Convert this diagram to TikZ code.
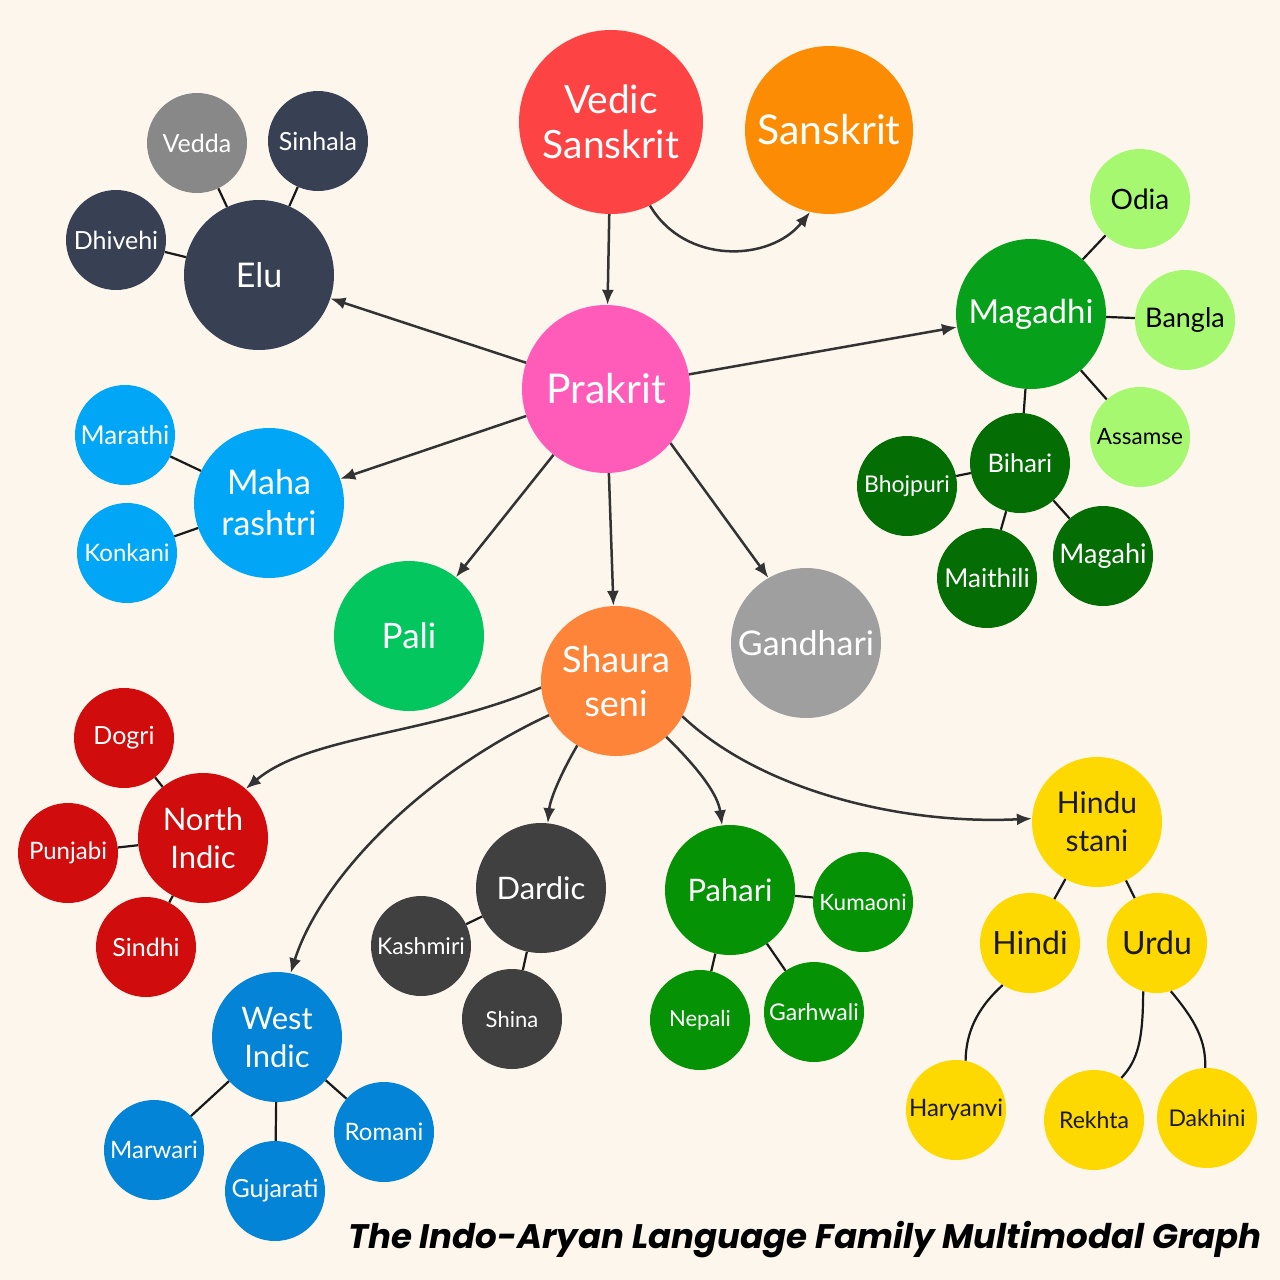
\documentclass[tikz,border=0pt]{standalone}
\usepackage{fontspec}
\setmainfont{Lato}
\newfontfamily\titlefont{Poppins}
\usetikzlibrary{arrows.meta}
\definecolor{bg}{HTML}{FDF6ED}
\definecolor{cVedic}{HTML}{FD4343}
\definecolor{cSansk}{HTML}{FC8C04}
\definecolor{cPrak}{HTML}{FF5CBA}
\definecolor{cElu}{HTML}{384154}
\definecolor{cVedda}{HTML}{888888}
\definecolor{cMagadhi}{HTML}{07A01B}
\definecolor{cLight}{HTML}{A6F870}
\definecolor{cBihari}{HTML}{046D04}
\definecolor{cMaha}{HTML}{01A7F6}
\definecolor{cPali}{HTML}{04C65F}
\definecolor{cShaur}{HTML}{FE8439}
\definecolor{cGand}{HTML}{9F9F9F}
\definecolor{cNorth}{HTML}{D10C0C}
\definecolor{cDard}{HTML}{404040}
\definecolor{cWest}{HTML}{0484D6}
\definecolor{cPahari}{HTML}{059205}
\definecolor{cHind}{HTML}{FED801}
\definecolor{edgec}{HTML}{333333}
\definecolor{darktext}{HTML}{1A1A1A}
\tikzset{
  lang/.style={circle, inner sep=0pt, text=white, align=center},
  big/.style={lang, minimum size=#1},
  arr/.style={draw=edgec, line width=2.5pt, -{Latex[length=15pt,width=12pt]}},
  link/.style={draw=black!90, line width=2.2pt},
}
\begin{document}
\begin{tikzpicture}[x=1pt,y=-1pt]
\fill[bg] (0,0) rectangle (1280,1280);
\useasboundingbox (0,0) rectangle (1280,1280);

% top
\node[big=184, fill=cVedic, font=\fontsize{39}{45}\selectfont] (vedic) at (611,122) {Vedic\\Sanskrit};
\node[big=168, fill=cSansk, font=\fontsize{41}{46}\selectfont] (sansk) at (829,130) {Sanskrit};
\node[big=168, fill=cPrak, font=\fontsize{41}{46}\selectfont] (prak) at (606,389) {Prakrit};

% Elu group
\node[big=150, fill=cElu, font=\fontsize{34}{40}\selectfont] (elu) at (259,275) {Elu};
\node[big=100, fill=cVedda, font=\fontsize{25}{30}\selectfont] (vedda) at (197,143) {Vedda};
\node[big=100, fill=cElu, font=\fontsize{25}{30}\selectfont] (sinh) at (318,141) {Sinhala};
\node[big=100, fill=cElu, font=\fontsize{25}{30}\selectfont] (dhiv) at (116,240) {Dhivehi};

% Magadhi group
\node[big=150, fill=cMagadhi, font=\fontsize{33}{40}\selectfont] (maga) at (1031,314) {Magadhi};
\node[big=100, fill=cLight, text=black, font=\fontsize{28}{32}\selectfont] (odia) at (1140,199) {Odia};
\node[big=100, fill=cLight, text=black, font=\fontsize{27}{32}\selectfont] (bang) at (1185,320) {Bangla};
\node[big=100, fill=cLight, text=black, font=\fontsize{22.5}{27}\selectfont] (assam) at (1140,437) {Assamse};
\node[big=100, fill=cBihari, font=\fontsize{25.5}{30}\selectfont] (bih) at (1020,463) {Bihari};
\node[big=100, fill=cBihari, font=\fontsize{23}{28}\selectfont] (bhoj) at (907,486) {Bhojpuri};
\node[big=100, fill=cBihari, font=\fontsize{26}{30}\selectfont] (mait) at (987,578) {Maithili};
\node[big=100, fill=cBihari, font=\fontsize{27}{30}\selectfont] (magahi) at (1103,556) {Magahi};

% Maharashtri group
\node[big=150, fill=cMaha, font=\fontsize{34}{41}\selectfont] (maha) at (269,503) {Maha\\rashtri};
\node[big=100, fill=cMaha, font=\fontsize{26}{30}\selectfont] (mara) at (125,435) {Marathi};
\node[big=100, fill=cMaha, font=\fontsize{24}{30}\selectfont] (konk) at (127,553) {Konkani};

% Pali, Shauraseni, Gandhari
\node[big=150, fill=cPali, font=\fontsize{35}{40}\selectfont] (pali) at (409,636) {Pali};
\node[big=150, fill=cShaur, font=\fontsize{36}{44}\selectfont] (shaur) at (616,681) {Shaura\\seni};
\node[big=150, fill=cGand, font=\fontsize{34}{40}\selectfont] (gand) at (806,643) {Gandhari};

% North Indic group
\node[big=130, fill=cNorth, font=\fontsize{31}{38}\selectfont] (nind) at (203,838) {North\\Indic};
\node[big=100, fill=cNorth, font=\fontsize{25}{30}\selectfont] (dogri) at (124,738) {Dogri};
\node[big=100, fill=cNorth, font=\fontsize{24}{30}\selectfont] (punj) at (68,853) {Punjabi};
\node[big=100, fill=cNorth, font=\fontsize{25}{30}\selectfont] (sindh) at (146,947) {Sindhi};

% Dardic group
\node[big=130, fill=cDard, font=\fontsize{31}{38}\selectfont] (dard) at (541,888) {Dardic};
\node[big=100, fill=cDard, font=\fontsize{23}{28}\selectfont] (kash) at (421,946) {Kashmiri};
\node[big=100, fill=cDard, font=\fontsize{22}{28}\selectfont] (shina) at (512,1019) {Shina};

% West Indic group
\node[big=130, fill=cWest, font=\fontsize{31}{38}\selectfont] (wind) at (277,1037) {West\\Indic};
\node[big=100, fill=cWest, font=\fontsize{24}{30}\selectfont] (marw) at (154,1150) {Marwari};
\node[big=100, fill=cWest, font=\fontsize{25}{30}\selectfont] (guj) at (275,1191) {Gujarati};
\node[big=100, fill=cWest, font=\fontsize{24}{30}\selectfont] (rom) at (384,1132) {Romani};

% Pahari group
\node[big=130, fill=cPahari, font=\fontsize{31}{38}\selectfont] (pah) at (730,890) {Pahari};
\node[big=100, fill=cPahari, font=\fontsize{22.5}{28}\selectfont] (kum) at (863,902) {Kumaoni};
\node[big=100, fill=cPahari, font=\fontsize{22}{28}\selectfont] (nep) at (700,1020) {Nepali};
\node[big=100, fill=cPahari, font=\fontsize{23}{28}\selectfont] (garh) at (814,1012) {Garhwali};

% Hindustani group
\node[big=130, fill=cHind, text=darktext, font=\fontsize{30}{38}\selectfont] (hstani) at (1097,822) {Hindu\\stani};
\node[big=100, fill=cHind, text=darktext, font=\fontsize{32}{36}\selectfont] (hindi) at (1030,943) {Hindi};
\node[big=100, fill=cHind, text=darktext, font=\fontsize{32}{36}\selectfont] (urdu) at (1157,943) {Urdu};
\node[big=100, fill=cHind, text=darktext, font=\fontsize{24}{28}\selectfont] (hary) at (956,1110) {Haryanvi};
\node[big=100, fill=cHind, text=darktext, font=\fontsize{23}{28}\selectfont] (rekh) at (1094,1120) {Rekhta};
\node[big=100, fill=cHind, text=darktext, font=\fontsize{23}{28}\selectfont] (dakh) at (1207,1118) {Dakhini};

% arrows
\draw[arr] (vedic) -- (prak);
\draw[arr] (vedic.295) .. controls (685,265) and (770,262) .. (sansk.257);
\draw[arr] (prak) -- (elu);
\draw[arr] (prak) -- (maga);
\draw[arr] (prak) -- (maha);
\draw[arr] (prak) -- (pali);
\draw[arr] (prak) -- (shaur);
\draw[arr] (prak.320) -- (gand.120);
\draw[arr] (shaur.185) .. controls (430,735) and (310,735) .. (nind.49);
\draw[arr] (shaur.207) .. controls (420,775) and (320,880) .. (wind.78);
\draw[arr] (shaur.239) .. controls (560,775) and (550,800) .. (dard.84);
\draw[arr] (shaur.312) .. controls (700,770) and (718,795) .. (pah.97);
\draw[arr] (shaur.332) .. controls (760,790) and (900,825) .. (hstani.177);

% links
\draw[link] (elu) -- (vedda);
\draw[link] (elu) -- (sinh);
\draw[link] (elu) -- (dhiv);
\draw[link] (maga) -- (odia);
\draw[link] (maga) -- (bang);
\draw[link] (maga) -- (assam);
\draw[link] (maga) -- (bih);
\draw[link] (bih) -- (bhoj);
\draw[link] (bih) -- (mait);
\draw[link] (bih) -- (magahi);
\draw[link] (maha) -- (mara);
\draw[link] (maha) -- (konk);
\draw[link] (nind) -- (dogri);
\draw[link] (nind) -- (punj);
\draw[link] (nind) -- (sindh);
\draw[link] (dard) -- (kash);
\draw[link] (dard) -- (shina);
\draw[link] (wind) -- (marw);
\draw[link] (wind) -- (guj);
\draw[link] (wind) -- (rom);
\draw[link] (pah) -- (kum);
\draw[link] (pah) -- (nep);
\draw[link] (pah) -- (garh);
\draw[link] (hstani) -- (hindi);
\draw[link] (hstani) -- (urdu);
\draw[link] (hindi.237) .. controls (975,1010) and (966,1035) .. (hary.79);
\draw[link] (urdu.254) .. controls (1143,1040) and (1138,1060) .. (rekh.57);
\draw[link] (urdu.286) .. controls (1195,1020) and (1206,1040) .. (dakh.92);

% title
\node[anchor=base east, inner sep=0pt, font=\titlefont\bfseries\itshape\fontsize{34}{40}\selectfont] (title) at (1262,1248) {The Indo-Aryan Language Family Multimodal Graph};
\end{tikzpicture}
\end{document}
